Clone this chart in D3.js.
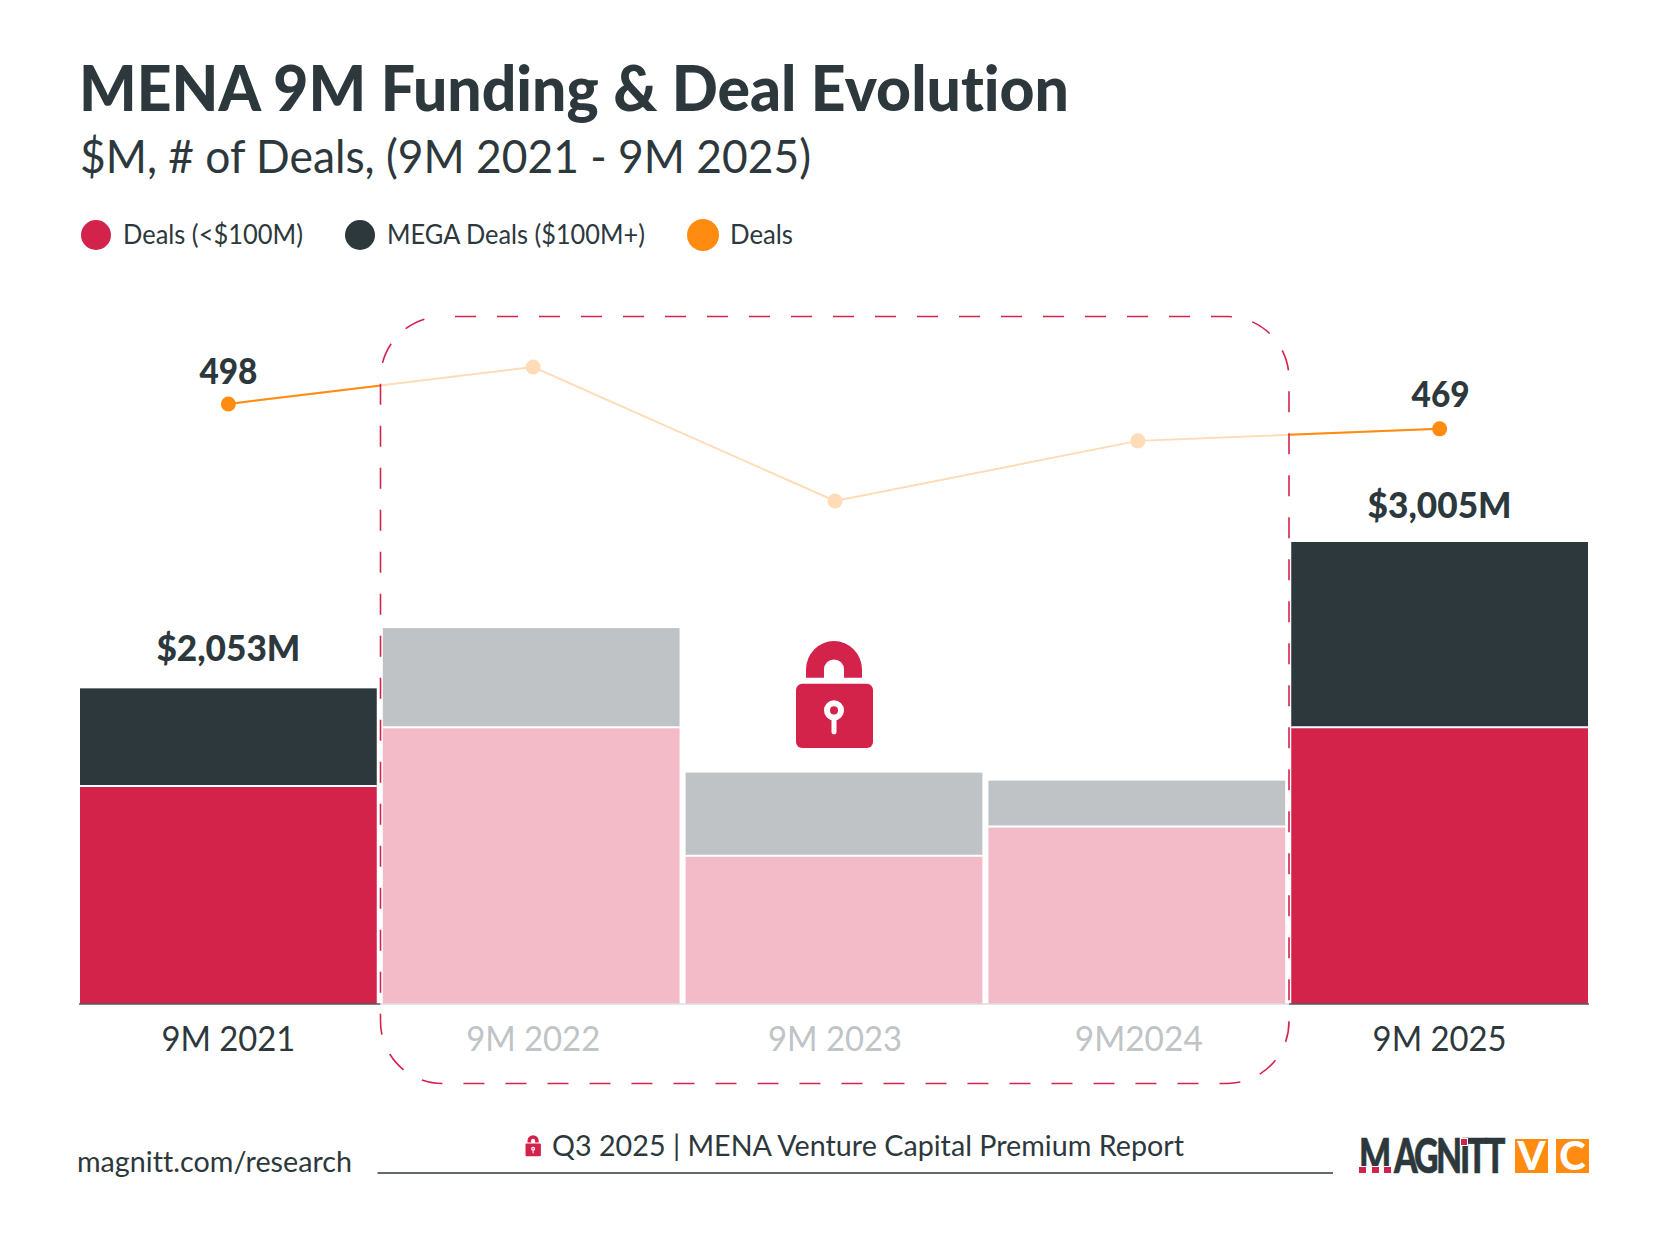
<!DOCTYPE html>
<html>
<head>
<meta charset="utf-8">
<title>MENA 9M Funding & Deal Evolution</title>
<script src="https://cdn.jsdelivr.net/npm/d3@7/dist/d3.min.js"></script>
<style>
  html, body { margin: 0; padding: 0; background: #fff; }
  svg { display: block; }
  text { font-family: Lato, "Open Sans", sans-serif; fill: #2d383d; font-variant-ligatures: none; }
</style>
</head>
<body>
<svg id="chart" width="1667" height="1250"></svg>
<script>
// Funding and deal figures per period
const periods = ["9M 2021", "9M 2022", "9M 2023", "9M2024", "9M 2025"];
const dealFunding = [1418, 1800, 965, 1155, 1800];
const megaFunding = [635, 645, 540, 298, 1205];
const dealCounts = [498, 541, 385, 455, 469];
const lockedPeriods = ["9M 2022", "9M 2023", "9M2024"];
const fundingLabels = { "9M 2021": "$2,053M", "9M 2025": "$3,005M" };
const legendEntries = ["Deals (<$100M)", "MEGA Deals ($100M+)", "Deals"];

const RED = "#d4234b", DARK = "#2d383d", ORANGE = "#ff8c11";
const isLocked = p => lockedPeriods.includes(p);

const svg = d3.select("#chart");

// Text squeezed to a set width, since the face runs narrow here
function fitted(parent, str, xPos, yPos, size, width) {
  return parent.append("text").attr("x", xPos).attr("y", yPos)
    .attr("font-size", size)
    .attr("textLength", width).attr("lengthAdjust", "spacingAndGlyphs")
    .text(str);
}

// Headings
fitted(svg, "MENA 9M Funding & Deal Evolution", 79, 111, 63, 990)
  .attr("font-weight", 900);
fitted(svg, "$M, # of Deals, (9M 2021 - 9M 2025)", 80, 173, 46, 731);

// Legend
const legendX = [96, 360, 703], legendTextX = [123, 387, 730];
const legendWidths = [180, 258, 63];
const legendColors = [RED, DARK, ORANGE], legendR = [15, 15, 16];
legendEntries.forEach((label, i) => {
  svg.append("circle").attr("cx", legendX[i]).attr("cy", 235)
    .attr("r", legendR[i]).attr("fill", legendColors[i]);
  fitted(svg, label, legendTextX[i], 244, 26, legendWidths[i]);
});

// Scales
const x = d3.scaleBand().domain(periods).range([80, 1588]).paddingInner(0.02);
const y = d3.scaleLinear().domain([0, 3005]).range([1004, 542]);
const yDeals = d3.scaleLinear().domain([385, 541]).range([501, 367]);
const centreShift = [0, 2, 1, 1, 0];
const centre = i => x(periods[i]) + x.bandwidth() / 2 + centreShift[i];

// Stacked funding bars
const rows = periods.map((p, i) => ({ p, deals: dealFunding[i], mega: megaFunding[i] }));
const stacked = d3.stack().keys(["deals", "mega"])(rows);
const fills = { deals: RED, mega: DARK };
const faded = { deals: "#f3bbc8", mega: "#bfc3c5" };

stacked.forEach(layer => {
  svg.append("g").selectAll("rect").data(layer).join("rect")
    .attr("x", d => x(d.data.p))
    .attr("width", x.bandwidth())
    .attr("y", d => y(d[1]))
    .attr("height", d => y(d[0]) - y(d[1]))
    .attr("fill", d => isLocked(d.data.p) ? faded[layer.key] : fills[layer.key]);
});
// Hairline between the two stack segments
svg.append("g").selectAll("line").data(rows).join("line")
  .attr("x1", d => x(d.p)).attr("x2", d => x(d.p) + x.bandwidth())
  .attr("y1", d => y(d.deals)).attr("y2", d => y(d.deals))
  .attr("stroke", "#fff").attr("stroke-width", 2);

// Baseline, dark outside the locked range and pale inside it
const lockLeft = 380.5, lockRight = 1289;
[[79, lockLeft, "#55595c"], [lockLeft, lockRight, "#dcdcdc"], [lockRight, 1589, "#55595c"]]
  .forEach(([a, b, c]) => svg.append("line")
    .attr("x1", a).attr("x2", b).attr("y1", 1004).attr("y2", 1004)
    .attr("stroke", c).attr("stroke-width", 1.5));

// Period labels
periods.forEach((p, i) => {
  const w = p === "9M2024" ? 128 : 134;
  fitted(svg, p, centre(i) + (p === "9M2024" ? 1 : 0), 1051, 35, w)
    .attr("text-anchor", "middle")
    .style("fill", isLocked(p) ? "#c0c4c6" : DARK);
});

// Funding totals above the open bars
const totalGap = { "9M 2021": 27, "9M 2025": 24 };
periods.filter(p => fundingLabels[p]).forEach(p => {
  const i = periods.indexOf(p);
  fitted(svg, fundingLabels[p], centre(i), y(dealFunding[i] + megaFunding[i]) - totalGap[p], 36, 144)
    .attr("text-anchor", "middle")
    .attr("font-weight", 900);
});

// Deal count line: pale everywhere, saturated outside the locked range
const lineGen = d3.line()
  .x((d, i) => centre(i))
  .y(d => yDeals(d));
const defs = svg.append("defs");
const openClip = defs.append("clipPath").attr("id", "open-range");
openClip.append("rect").attr("x", 0).attr("y", 0).attr("width", lockLeft).attr("height", 1250);
openClip.append("rect").attr("x", lockRight).attr("y", 0).attr("width", 1667 - lockRight).attr("height", 1250);

svg.append("path").attr("d", lineGen(dealCounts))
  .attr("fill", "none").attr("stroke", "#ffdcb8").attr("stroke-width", 2);
svg.append("path").attr("d", lineGen(dealCounts))
  .attr("fill", "none").attr("stroke", ORANGE).attr("stroke-width", 2)
  .attr("clip-path", "url(#open-range)");
svg.append("g").selectAll("circle").data(dealCounts).join("circle")
  .attr("cx", (d, i) => centre(i))
  .attr("cy", d => yDeals(d))
  .attr("r", 7.5)
  .attr("fill", (d, i) => isLocked(periods[i]) ? "#ffdcb8" : ORANGE);
[[0, 20], [4, 22]].forEach(([i, gap]) => {
  fitted(svg, String(dealCounts[i]), centre(i) + (i === 4 ? 1 : 0), yDeals(dealCounts[i]) - gap, 36, 58)
    .attr("text-anchor", "middle")
    .attr("font-weight", 900);
});

// Dashed frame around the locked periods
svg.append("rect")
  .attr("x", lockLeft).attr("y", 316.5)
  .attr("width", lockRight - lockLeft).attr("height", 767)
  .attr("rx", 62).attr("ry", 62)
  .attr("fill", "none").attr("stroke", RED).attr("stroke-width", 1.6)
  .attr("stroke-dasharray", "21 21")
  .attr("stroke-dashoffset", 29.5);

// Padlock glyph, drawn in a 77x106 box
function padlock(g) {
  g.append("path")
    .attr("d", "M10 37V29A28 28 0 0 1 66 29V37H48V29A10 10 0 0 0 28 29V37Z")
    .attr("fill", RED);
  g.append("rect").attr("x", 0).attr("y", 43).attr("width", 77).attr("height", 63)
    .attr("rx", 6).attr("fill", RED);
  g.append("circle").attr("cx", 38).attr("cy", 69).attr("r", 7)
    .attr("fill", RED).attr("stroke", "#fff").attr("stroke-width", 6);
  g.append("line").attr("x1", 38).attr("x2", 38).attr("y1", 76).attr("y2", 90)
    .attr("stroke", "#fff").attr("stroke-width", 5).attr("stroke-linecap", "round");
}
padlock(svg.append("g").attr("transform", "translate(796,640) scale(1,1.02)"));

// Footer
fitted(svg, "magnitt.com/research", 77, 1172, 29, 275);
svg.append("line").attr("x1", 377.5).attr("x2", 1333).attr("y1", 1173).attr("y2", 1173)
  .attr("stroke", DARK).attr("stroke-width", 1.5);
padlock(svg.append("g").attr("transform", "translate(525.5,1135) scale(0.2)"));
fitted(svg, "Q3 2025 | MENA Venture Capital Premium Report", 552, 1156, 29, 632);

// Brand mark: each wordmark letter placed on its own, horizontally condensed
const logoScale = 0.72;
const letterX = [1359, 1394, 1414, 1436, 1460, 1467, 1485];
svg.append("text")
  .attr("transform", `scale(${logoScale},1)`)
  .attr("x", letterX.map(v => (v / logoScale).toFixed(1)).join(" "))
  .attr("y", 1173).attr("font-size", 47).attr("font-weight", 900)
  .attr("stroke", DARK).attr("stroke-width", 0.6)
  .text("MAGNITT");
// Red feet under the M and a red dot on the I
svg.append("rect").attr("x", 1358).attr("y", 1166).attr("width", 33).attr("height", 8).attr("fill", "#fff");
[1359, 1372, 1384].forEach(px => svg.append("rect")
  .attr("x", px).attr("y", 1167).attr("width", 7).attr("height", 6).attr("fill", RED));
svg.append("rect").attr("x", 1460).attr("y", 1138).attr("width", 8).attr("height", 8).attr("fill", "#fff");
svg.append("rect").attr("x", 1461).attr("y", 1139).attr("width", 6).attr("height", 6).attr("fill", RED);
[[1515, "V"], [1556, "C"]].forEach(([px, letter]) => {
  svg.append("rect").attr("x", px).attr("y", 1139).attr("width", 33).attr("height", 34).attr("fill", ORANGE);
  svg.append("text").attr("x", px + 16.5).attr("y", 1170).attr("text-anchor", "middle")
    .attr("font-size", 40).attr("font-weight", 900).style("fill", "#fff").text(letter);
});
</script>
</body>
</html>
